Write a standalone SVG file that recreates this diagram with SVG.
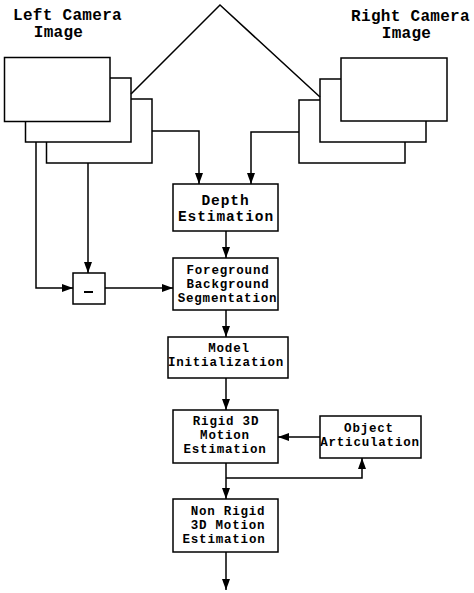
<svg xmlns="http://www.w3.org/2000/svg" width="474" height="593" viewBox="0 0 474 593">
<style>
.b{fill:#fff;stroke:#000;stroke-width:1.5}
.c{fill:none;stroke:#000;stroke-width:1.5}
text{font-family:"Liberation Mono","Courier New",monospace;font-weight:bold;fill:#000;text-anchor:middle}
.l{font-size:16px;letter-spacing:0.3px}
.m{font-size:14.5px;letter-spacing:0.9px}
.s{font-size:12.5px;letter-spacing:0.8px}
</style>
<defs>
<marker id="a" viewBox="0 0 11 8" refX="11" refY="4" markerWidth="11" markerHeight="8" markerUnits="userSpaceOnUse" orient="auto">
<path d="M0,0 L11,4 L0,8 z" fill="#000"/>
</marker>
</defs>
<g id="left-camera">
<text class="l" x="67.5" y="20">Left Camera</text>
<text class="l" x="58.5" y="37">Image</text>
<rect class="b" x="46.5" y="99" width="105.5" height="64"/>
<rect class="b" x="25.5" y="78" width="105.5" height="64"/>
<rect class="b" x="4.5" y="57.5" width="105.5" height="64"/>
</g>
<g id="right-camera">
<text class="l" x="410.5" y="21">Right Camera</text>
<text class="l" x="406.5" y="38">Image</text>
<rect class="b" x="299" y="100" width="106" height="63"/>
<rect class="b" x="320" y="79" width="106" height="63"/>
<rect class="b" x="341" y="58" width="106" height="63"/>
</g>
<g id="depth">
<rect class="b" x="173" y="184" width="105" height="47"/>
<text class="m" x="225.5" y="205">Depth</text>
<text class="m" x="226" y="221">Estimation</text>
</g>
<g id="minus">
<rect class="b" x="73" y="273" width="32" height="31"/>
<line x1="84" y1="292" x2="93" y2="292" stroke="#000" stroke-width="2"/>
</g>
<g id="segmentation">
<rect class="b" x="173" y="258" width="105" height="52"/>
<text class="s" x="228" y="274">Foreground</text>
<text class="s" x="228" y="288">Background</text>
<text class="s" x="227.5" y="302">Segmentation</text>
</g>
<g id="model">
<rect class="b" x="168" y="337" width="120" height="41"/>
<text class="s" x="229" y="352">Model</text>
<text class="s" x="226" y="366">Initialization</text>
</g>
<g id="rigid">
<rect class="b" x="173" y="410" width="105" height="53"/>
<text class="s" x="226" y="425">Rigid 3D</text>
<text class="s" x="225" y="439">Motion</text>
<text class="s" x="225" y="453">Estimation</text>
</g>
<g id="articulation">
<rect class="b" x="320" y="416" width="101" height="42"/>
<text class="s" x="369" y="432">Object</text>
<text class="s" x="370" y="446">Articulation</text>
</g>
<g id="nonrigid">
<rect class="b" x="173" y="499" width="105" height="53"/>
<text class="s" x="228" y="515">Non Rigid</text>
<text class="s" x="228" y="529">3D Motion</text>
<text class="s" x="224" y="543">Estimation</text>
</g>
<g id="connectors">
<polyline class="c" points="131,94 220,5 320,97"/>
<polyline class="c" points="152,131 199,131 199,184" marker-end="url(#a)"/>
<polyline class="c" points="299,132 251,132 251,184" marker-end="url(#a)"/>
<polyline class="c" points="36,142 36,288 73,288" marker-end="url(#a)"/>
<polyline class="c" points="88,163 88,273" marker-end="url(#a)"/>
<polyline class="c" points="105,288 173,288" marker-end="url(#a)"/>
<polyline class="c" points="226,231 226,258" marker-end="url(#a)"/>
<polyline class="c" points="226,310 226,337" marker-end="url(#a)"/>
<polyline class="c" points="226,378 226,410" marker-end="url(#a)"/>
<polyline class="c" points="320,437 278,437" marker-end="url(#a)"/>
<polyline class="c" points="226,463 226,499" marker-end="url(#a)"/>
<polyline class="c" points="226,478 362,478 362,458" marker-end="url(#a)"/>
<polyline class="c" points="226,552 226,590" marker-end="url(#a)"/>
</g>
</svg>
